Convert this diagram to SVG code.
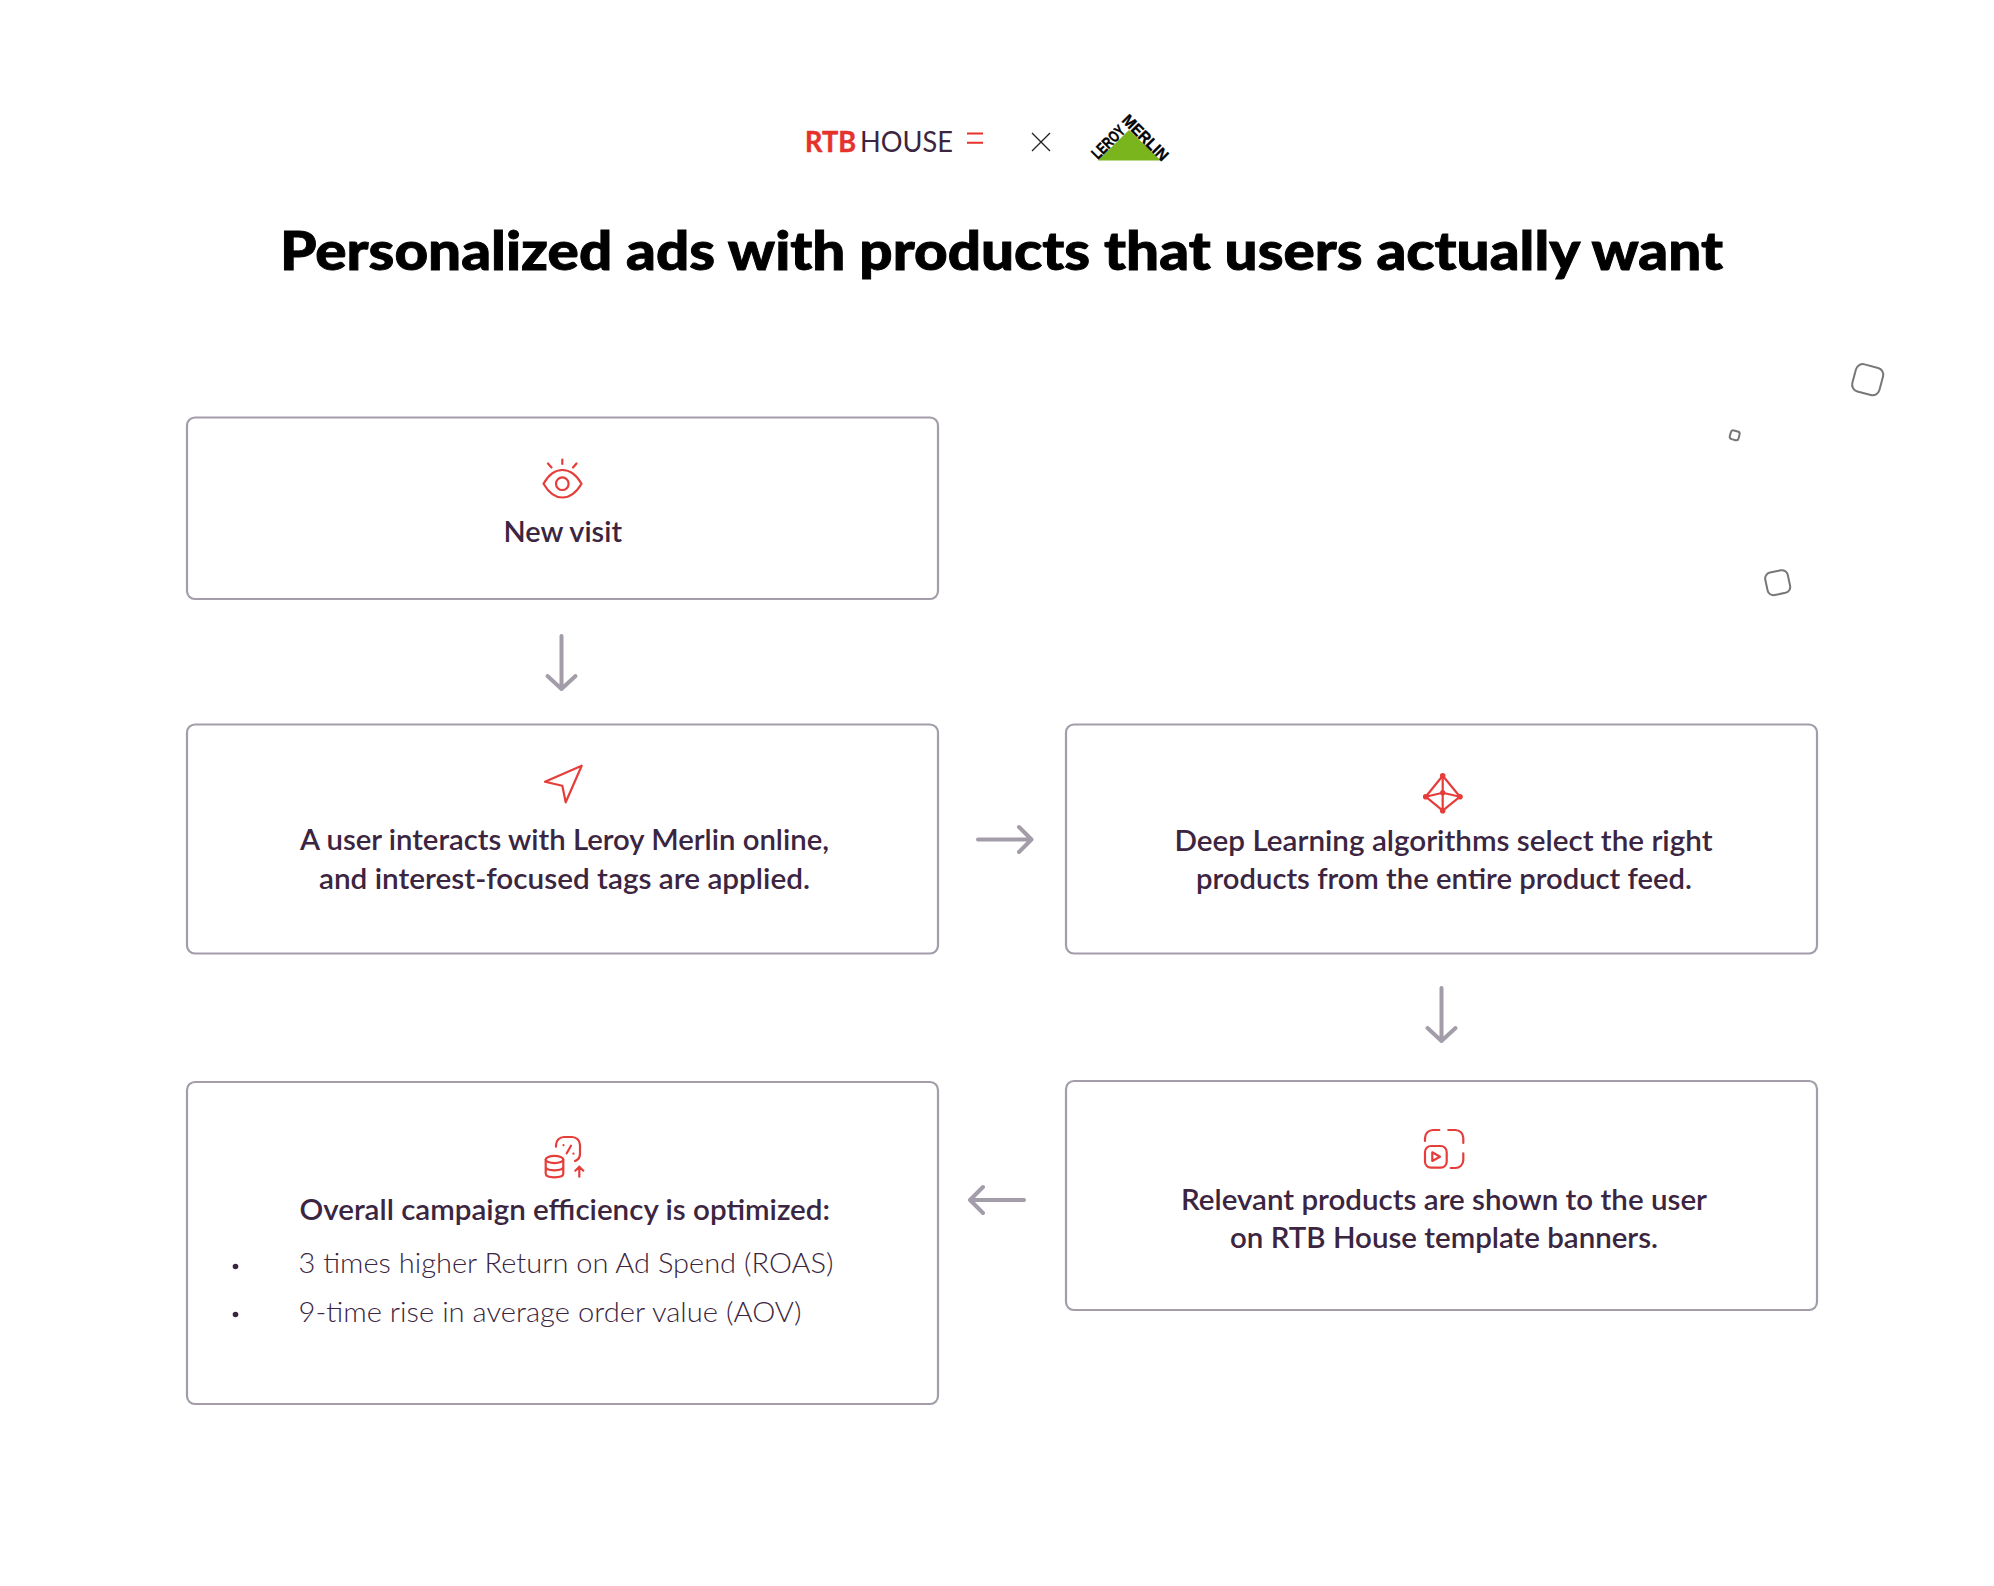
<svg xmlns="http://www.w3.org/2000/svg" width="1994" height="1586" viewBox="0 0 1994 1586">
<defs><style>
text{font-family:"Lato","Open Sans","Liberation Sans",sans-serif;fill:#3b2540}
.box{fill:#fff;stroke:#a39ca9;stroke-width:2.2}
.t{font-size:28px;font-weight:600;text-anchor:start}
.l{font-size:28px;font-weight:300}
.i{fill:none;stroke:#e53e3a;stroke-width:2.2;stroke-linecap:round;stroke-linejoin:round}
.a{fill:none;stroke:#a39ca9;stroke-width:4;stroke-linecap:round;stroke-linejoin:round}
.d{fill:none;stroke:#777;stroke-width:2}
.lm{font-family:"Liberation Sans",sans-serif;font-size:16px;font-weight:700;fill:#000;stroke:#000;stroke-width:.4}
</style></defs>
<rect width="1994" height="1586" fill="#fff"/>
<g id="logos">
<text x="805" y="152" font-size="29" font-weight="700" style="fill:#e5322d;stroke:#e5322d;stroke-width:.5" textLength="51" lengthAdjust="spacingAndGlyphs">RTB</text>
<text x="860" y="152" font-size="29" font-weight="400" textLength="93" lengthAdjust="spacingAndGlyphs">HOUSE</text>
<path d="M967 133.5H983M967 142.7H983" stroke="#e5322d" stroke-width="2" fill="none"/>
<path d="M1032 133L1050 151M1050 133L1032 151" stroke="#222" stroke-width="1.3" fill="none"/>
<path d="M1129 130L1161 160.5H1098Z" fill="#7ab51d"/>
<text class="lm" transform="translate(1098 160) rotate(-45)" textLength="40" lengthAdjust="spacingAndGlyphs">LEROY</text>
<text class="lm" transform="translate(1121 121) rotate(45)" textLength="58" lengthAdjust="spacingAndGlyphs">MERLIN</text>
</g>
<text id="title" x="280" y="270" font-size="54" font-weight="900" style="fill:#000;stroke:#000;stroke-width:.9" textLength="1443" lengthAdjust="spacingAndGlyphs">Personalized ads with products that users actually want</text>
<g id="decor">
<rect class="d" x="-14" y="-14" width="28" height="28" rx="7" transform="translate(1867.7 379.7) rotate(15)"/>
<rect class="d" x="-4.5" y="-4.5" width="9" height="9" rx="2.5" transform="translate(1734.7 435.3) rotate(15)"/>
<rect class="d" x="-11.5" y="-11.5" width="23" height="23" rx="6" transform="translate(1777.7 582.7) rotate(-12)"/>
</g>
<g id="connectors">
<path class="a" d="M561.5 636V689M547.5 676L561.5 689L575.5 676"/>
<path class="a" d="M978 839.5H1031.5M1019 827L1031.5 839.5L1019 852"/>
<path class="a" d="M1441.5 988V1041M1427.5 1028L1441.5 1041L1455.5 1028"/>
<path class="a" d="M1024 1200H970M983 1187L970 1200L983 1213"/>
</g>
<g id="node-visit">
<rect class="box" x="187" y="417.5" width="751" height="181.5" rx="8"/>
<path class="i" d="M543.5 483.7C549 474 555 470 562.3 470C570 470 576 474 581.5 483.7C576 493 570 497.5 562.3 497.5C555 497.5 549 493 543.5 483.7Z"/>
<circle class="i" cx="562.3" cy="483.7" r="6.3"/>
<path class="i" d="M562.3 459.5V464M548 463.5L551.5 467.5M576.5 463.5L573 467.5"/>
<text class="t" x="503.5" y="542" textLength="118.5" lengthAdjust="spacingAndGlyphs">New visit</text>
</g>
<g id="node-interact">
<rect class="box" x="187" y="724.5" width="751" height="229" rx="8"/>
<path class="i" d="M581.7 765.7L545 781.7L562.3 785.7L565.7 802.3Z"/>
<text class="t" x="300" y="850" textLength="529" lengthAdjust="spacingAndGlyphs">A user interacts with Leroy Merlin online,</text>
<text class="t" x="319" y="888.5" textLength="491" lengthAdjust="spacingAndGlyphs">and interest-focused tags are applied.</text>
</g>
<g id="node-deep">
<rect class="box" x="1066" y="724.5" width="751" height="229" rx="8"/>
<path class="i" d="M1442.7 775.7L1425.7 796.7L1442.7 810.7L1460 796.7ZM1442.7 775.7V810.7M1425.7 796.7L1442.7 792.7L1460 796.7" stroke-width="1.6"/>
<g fill="#e53e3a"><circle cx="1442.7" cy="775.7" r="2.8"/><circle cx="1425.7" cy="796.7" r="2.8"/><circle cx="1460" cy="796.7" r="2.8"/><circle cx="1442.7" cy="810.7" r="2.8"/><circle cx="1442.7" cy="792.7" r="2.6"/></g>
<text class="t" x="1174.5" y="851" textLength="538" lengthAdjust="spacingAndGlyphs">Deep Learning algorithms select the right</text>
<text class="t" x="1196" y="889" textLength="496" lengthAdjust="spacingAndGlyphs">products from the entire product feed.</text>
</g>
<g id="node-banners">
<rect class="box" x="1066" y="1081" width="751" height="229" rx="8"/>
<path class="i" d="M1425 1141V1138A8 8 0 0 1 1433 1130H1439.3M1448.3 1130H1455.3A8 8 0 0 1 1463.3 1138V1143M1463.3 1153.3V1160A8 8 0 0 1 1455.3 1168H1450.7"/>
<rect class="i" x="1425" y="1146" width="21.7" height="21.7" rx="6"/>
<path class="i" d="M1432.3 1152.3V1161L1440 1156.7Z"/>
<text class="t" x="1181" y="1209.5" textLength="526" lengthAdjust="spacingAndGlyphs">Relevant products are shown to the user</text>
<text class="t" x="1230" y="1247.5" textLength="428" lengthAdjust="spacingAndGlyphs">on RTB House template banners.</text>
</g>
<g id="node-efficiency">
<rect class="box" x="187" y="1082" width="751" height="322" rx="8"/>
<path class="i" d="M556 1146.7V1145A8 8 0 0 1 564 1137H572A8 8 0 0 1 580 1145V1153A8 8 0 0 1 575 1161"/>
<path class="i" d="M571 1145.7L566.7 1153.3M563.5 1145V1145.2M573.5 1153.5V1153.7"/>
<ellipse class="i" cx="554.5" cy="1159.5" rx="8.8" ry="3.6"/>
<path class="i" d="M545.7 1159.5V1173.5C545.7 1176 550 1177.3 554.5 1177.3C559 1177.3 563.3 1176 563.3 1173.5V1159.5M545.7 1166.5C545.7 1169 550 1170.3 554.5 1170.3C559 1170.3 563.3 1169 563.3 1166.5"/>
<path class="i" d="M579.3 1176.7V1166.7M575.3 1170.7L579.3 1166.7L583.3 1170.7"/>
<text class="t" x="299.5" y="1220" textLength="530.5" lengthAdjust="spacingAndGlyphs">Overall campaign efficiency is optimized:</text>
<circle cx="235.5" cy="1266.5" r="2.8" fill="#3b2540"/>
<circle cx="235.5" cy="1314.5" r="2.8" fill="#3b2540"/>
<text class="l" x="298.5" y="1273" textLength="535" lengthAdjust="spacingAndGlyphs">3 times higher Return on Ad Spend (ROAS)</text>
<text class="l" x="298.5" y="1321.5" textLength="503" lengthAdjust="spacingAndGlyphs">9-time rise in average order value (AOV)</text>
</g>
</svg>
